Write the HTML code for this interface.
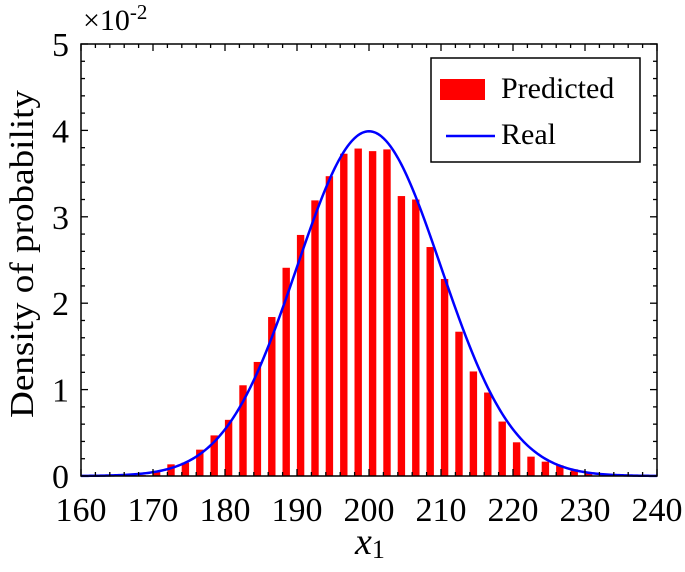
<!DOCTYPE html>
<html><head><meta charset="utf-8"><style>
html,body{margin:0;padding:0;background:#fff;}
svg text{font-family:"Liberation Serif",serif;fill:#000;}
</style></head><body>
<svg width="685" height="567" viewBox="0 0 685 567" xmlns="http://www.w3.org/2000/svg">
<g id="bars"></g>
<path id="curve" fill="none" stroke="#0000ff" stroke-width="2.5"/>
<g id="axes"></g>
<text x="83" y="30" font-size="30">×10<tspan font-size="21" dy="-11">-2</tspan></text>
<text transform="translate(33,254) rotate(-90)" text-anchor="middle" font-size="34" textLength="328" lengthAdjust="spacingAndGlyphs">Density of probability</text>
<text x="355" y="554" font-size="38" font-style="italic">x<tspan font-style="normal" font-size="26" dy="4">1</tspan></text>
<g>
<rect x="431" y="58" width="209" height="104" fill="#fff" stroke="#000" stroke-width="1.5"/>
<rect x="440" y="79" width="45" height="21" fill="#ff0000"/>
<text x="501" y="98" font-size="30">Predicted</text>
<line x1="446" y1="136" x2="495" y2="136" stroke="#0000ff" stroke-width="2.5"/>
<text x="501" y="144" font-size="30">Real</text>
</g>
</svg>
<script>
const barCenters=[168.5,170.5,172.5,174.5,176.5,178.5,180.5,182.5,184.5,186.5,188.5,190.5,192.5,194.5,196.5,198.5,200.5,202.5,204.5,206.5,208.5,210.5,212.5,214.5,216.5,218.5,220.5,222.5,224.5,226.5,228.5,230.5,232.5];
const barValues=[0.01,0.05,0.135,0.155,0.305,0.47,0.65,1.05,1.32,1.84,2.41,2.79,3.19,3.47,3.73,3.79,3.76,3.78,3.24,3.20,2.65,2.28,1.67,1.21,0.966,0.63,0.39,0.224,0.166,0.124,0.077,0.03,0.01];
const realMean=[200];
const realSigma=[10];
const xTicks=[160,170,180,190,200,210,220,230,240];
const yTicks=[0,1,2,3,4,5];
const X0=81,X1=657,Y0=476,Y1=44;
const xs=v=>X0+(v-160)/80*(X1-X0);
const ys=v=>Y0-(v/5)*(Y0-Y1);
const NS="http://www.w3.org/2000/svg";
const bars=document.getElementById('bars');
barCenters.forEach((c,i)=>{
  const r=document.createElementNS(NS,'rect');
  
  
  const w=7.4;
  r.setAttribute('x',xs(c)-w/2);
  r.setAttribute('width',w);
  r.setAttribute('y',ys(barValues[i]));
  r.setAttribute('height',Y0-ys(barValues[i]));
  r.setAttribute('fill','#ff0000');
  bars.appendChild(r);
});
let d='';
for(let x=160;x<=240;x+=0.25){
  const v=100/(realSigma[0]*Math.sqrt(2*Math.PI))*Math.exp(-((x-realMean[0])**2)/(2*realSigma[0]**2));
  d+=(d?'L':'M')+xs(x).toFixed(2)+','+ys(v).toFixed(2);
}
document.getElementById('curve').setAttribute('d',d);
const ax=document.getElementById('axes');
function el(tag,attrs){const e=document.createElementNS(NS,tag);for(const k in attrs)e.setAttribute(k,attrs[k]);ax.appendChild(e);return e;}
const fr=el('rect',{x:X0,y:Y1,width:X1-X0,height:Y0-Y1,fill:'none',stroke:'#000','stroke-width':1.5});


for(let v=160;v<=240;v+=2){
  const major=(v%10===0),L=major?7:4,x=xs(v);
  el('line',{x1:x,y1:Y0,x2:x,y2:Y0-L,stroke:'#000','stroke-width':1.3});
  el('line',{x1:x,y1:Y1,x2:x,y2:Y1+L,stroke:'#000','stroke-width':1.3});
}
for(let k=0;k<=25;k++){
  const v=k*0.2,major=(k%5===0),L=major?7:4,y=ys(v);
  el('line',{x1:X0,y1:y,x2:X0+L,y2:y,stroke:'#000','stroke-width':1.3});
  el('line',{x1:X1,y1:y,x2:X1-L,y2:y,stroke:'#000','stroke-width':1.3});
}
xTicks.forEach(v=>{const t=el('text',{x:xs(v),y:521,'text-anchor':'middle','font-size':34});t.textContent=v;

});
yTicks.forEach(v=>{const t=el('text',{x:69,y:ys(v)+12,'text-anchor':'end','font-size':34});t.textContent=v;

});
</script>
</body></html>
